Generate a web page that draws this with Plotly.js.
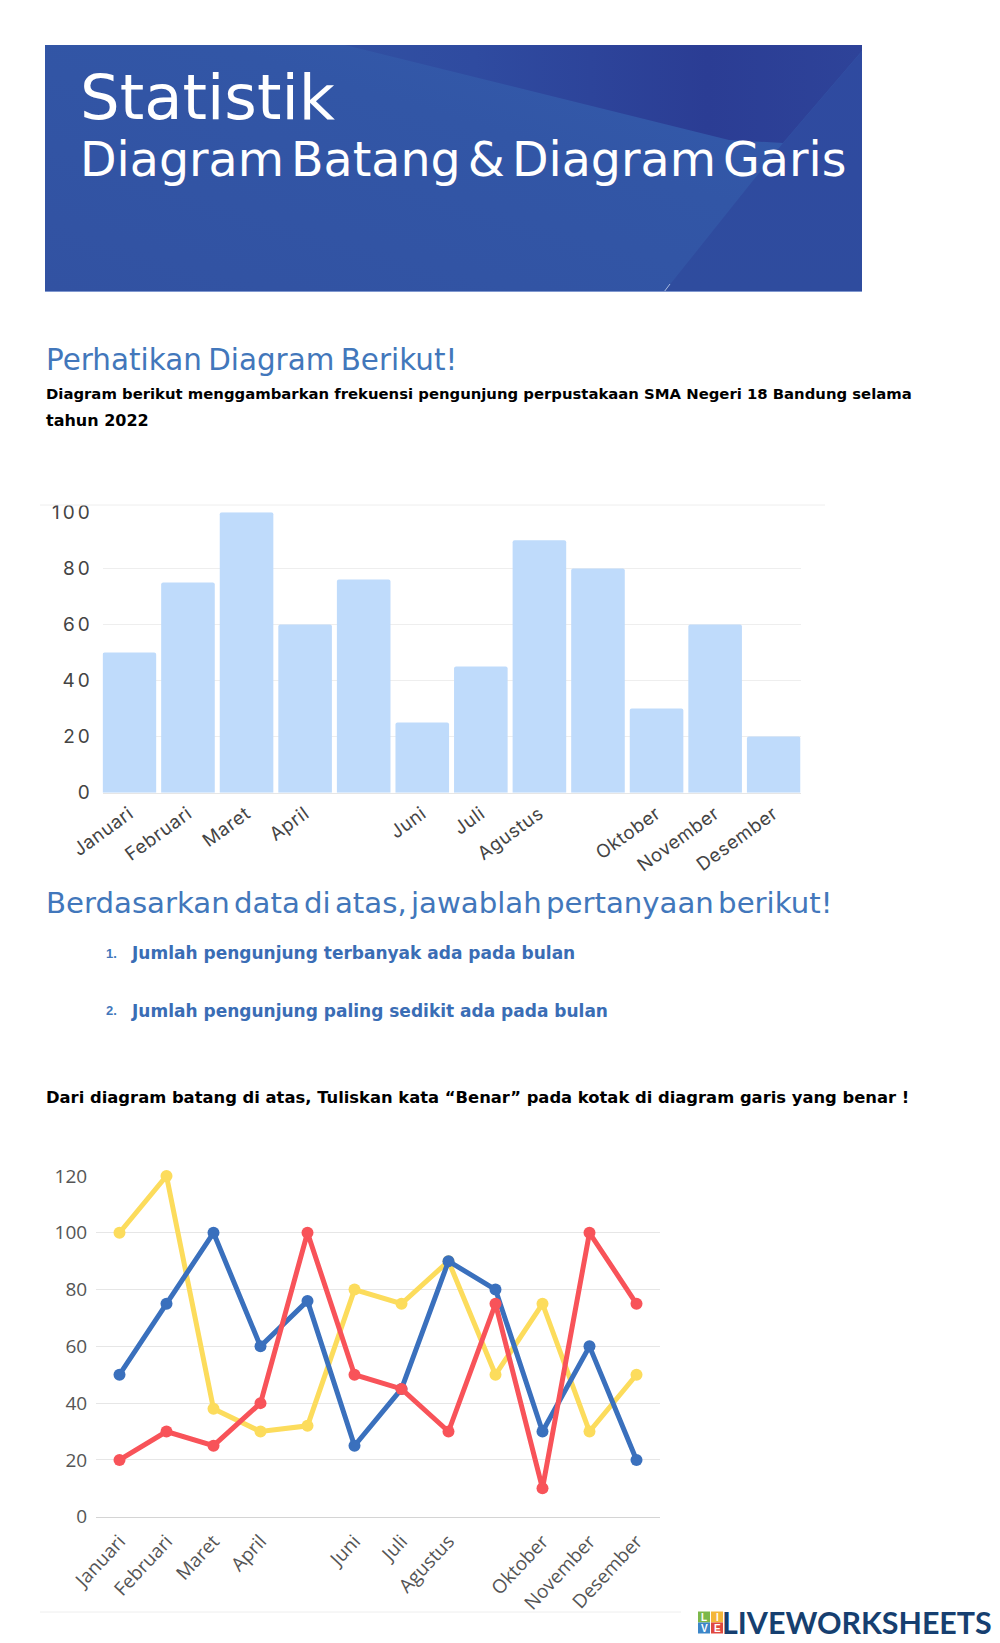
<!DOCTYPE html>
<html><head><meta charset="utf-8">
<script src="https://cdn.plot.ly/plotly-3.0.1.min.js"></script>
<style>
html,body{margin:0;padding:0;background:#fff}
#c{width:1000px;height:1643px}
.annotation[data-index="1"] text{word-spacing:-8px}
.annotation[data-index="2"] text{word-spacing:-3px}
.annotation[data-index="5"] text{word-spacing:-5px}
.ytick text{letter-spacing:3px}
.xtick text{letter-spacing:.6px}
</style></head><body><div id="c"></div>
<script>
const months=['Januari','Februari','Maret','April','Mei','Juni','Juli','Agustus','September','Oktober','November','Desember'];
const tickLabels=['Januari','Februari','Maret','April','Juni','Juli','Agustus','Oktober','November','Desember'];
const barValues=[50,75,100,60,76,25,45,90,80,30,60,20];
const lineYellow=[100,120,38,30,32,80,75,90,50,75,30,50];
const lineBlue=[50,75,100,60,76,25,45,90,80,30,60,20];
const lineRed=[20,30,25,40,100,50,45,30,75,10,100,75];
const W=1000,H=1643;
const px=x=>x/W, py=y=>1-y/H;
function note(text,x,y,size,color,family,bold,anchor){
  return {text:bold?'<b>'+text+'</b>':text,x:px(x),y:py(y),xref:'paper',yref:'paper',xanchor:anchor||'left',yanchor:'middle',showarrow:false,
    font:{size:size,color:color,family:family},borderpad:0};
}
const dj='DejaVu Sans',ar='Liberation Sans',blue='#4277bb';
const annotations=[
 note('Statistik',79,98,62.5,'#fff',dj),
 note('Diagram Batang &amp; Diagram Garis',63,159,47.5,'#fff',dj),
 note('Perhatikan Diagram Berikut!',42,360,29.4,blue,dj),
 note('Diagram berikut menggambarkan frekuensi pengunjung perpustakaan SMA Negeri 18 Bandung selama',45,394,14.85,'#000',dj,true),
 note('tahun 2022',45,420,16,'#000',dj,true),
 note('Berdasarkan data di atas, jawablah pertanyaan berikut!',30,903,29.2,blue,dj),
 note('1.',105,953,13,blue,ar,true),
 note('Jumlah pengunjung terbanyak ada pada bulan',130,953,17,'#3a6db5',dj,true),
 note('2.',105,1011,13,blue,ar,true),
 note('Jumlah pengunjung paling sedikit ada pada bulan',130,1011,17,'#3a6db5',dj,true),
 note('Dari diagram batang di atas, Tuliskan kata “Benar” pada kotak di diagram garis yang benar !',45,1097,16.36,'#000',dj,true),
 note('LIVEWORKSHEETS',721,1622,30.4,'#163f70','Lato',true),
 note('L',704,1617,10,'#fff',ar,true,'center'),
 note('I',717,1617,10,'#fff',ar,true,'center'),
 note('V',704,1628,10,'#fff',ar,true,'center'),
 note('E',717,1628,10,'#fff',ar,true,'center')
];
function rule(x0,x1,y,c){return {type:'line',xref:'paper',yref:'paper',x0:px(x0),x1:px(x1),y0:py(y),y1:py(y),line:{color:c,width:1}};}
function tile(x0,y0,c){return {type:'rect',xref:'paper',yref:'paper',x0:px(x0),x1:px(x0+12),y0:py(y0),y1:py(y0+11),fillcolor:c,line:{width:0}};}
const shapes=[rule(40,825,505,'#eeeeee'),rule(40,681,1612,'#eeeeee'),
 tile(698,1611.5,'#7cb84a'),tile(711,1611.5,'#f4b63a'),tile(698,1622.5,'#3c86c8'),tile(711,1622.5,'#e0483e')];
const svg=`<svg xmlns="http://www.w3.org/2000/svg" width="817" height="247" viewBox="0 0 817 247" preserveAspectRatio="none">
<defs>
<linearGradient id="b" x1="0" y1="1" x2="1" y2="0"><stop offset="0" stop-color="#3252a2"/><stop offset=".6" stop-color="#3256a6"/><stop offset="1" stop-color="#345cad"/></linearGradient>
<linearGradient id="d" gradientUnits="userSpaceOnUse" x1="300" y1="0" x2="817" y2="0"><stop offset="0" stop-color="#3150a2"/><stop offset=".25" stop-color="#2f4ba0"/><stop offset=".7" stop-color="#2b3d94"/><stop offset="1" stop-color="#2e4399"/></linearGradient>
<linearGradient id="r" x1="0" y1="0" x2="0" y2="1"><stop offset="0" stop-color="#2f4aa0"/><stop offset="1" stop-color="#2f4c9e"/></linearGradient>
</defs>
<rect width="817" height="247" fill="url(#b)"/>
<polygon points="300,0 817,0 817,6 738,98 684,95" fill="url(#d)"/>
<polygon points="817,6 817,247 619,247 738,98" fill="url(#r)"/>
<line x1="619" y1="247" x2="625" y2="239" stroke="#a9bce0" stroke-width="1"/>
<rect y="246" width="817" height="1" fill="#7f97cf"/>
</svg>`;
const images=[{source:'data:image/svg+xml;base64,'+btoa(svg),xref:'paper',yref:'paper',x:px(45),y:py(45),sizex:817/W,sizey:247/H,sizing:'stretch',xanchor:'left',yanchor:'top',layer:'below'}];
function lineTrace(v,c){return {type:'scatter',mode:'lines+markers',x:months,y:v,xaxis:'x2',yaxis:'y2',cliponaxis:false,line:{color:c,width:5},marker:{color:c,size:12},hoverinfo:'skip'};}
const data=[
 {type:'bar',x:months,y:barValues,xaxis:'x',yaxis:'y',marker:{color:'#bfdbfb',cornerradius:2},hoverinfo:'skip'},
 lineTrace(lineYellow,'#fcdc5c'),lineTrace(lineBlue,'#3a70bd'),lineTrace(lineRed,'#f85359')
];
const layout={width:W,height:H,margin:{l:0,r:0,t:0,b:0,pad:0},paper_bgcolor:'#fff',plot_bgcolor:'rgba(0,0,0,0)',showlegend:false,bargap:0.085,
 xaxis:{domain:[102.6/W,800.5/W],type:'category',categoryorder:'array',categoryarray:months,range:[-0.4575,11.4575],tickmode:'array',tickvals:tickLabels,ticktext:tickLabels,tickangle:-36,ticks:'',ticklabelstandoff:2,tickfont:{family:'Inter',size:18.5,color:'#444'},showgrid:false,showline:true,linecolor:'#e6e6e6',zeroline:false,anchor:'y',fixedrange:true},
 yaxis:{domain:[1-792.7/H,1-512.3/H],range:[0,100],tickmode:'array',tickvals:[0,20,40,60,80,100],tickfont:{family:'Inter',size:19,color:'#444'},gridcolor:'#eeeeee',zeroline:false,ticks:'outside',ticklen:5,tickcolor:'rgba(0,0,0,0)',anchor:'x',fixedrange:true},
 xaxis2:{domain:[96/W,660/W],type:'category',categoryorder:'array',categoryarray:months,range:[-0.5,11.5],tickmode:'array',tickvals:tickLabels,ticktext:tickLabels,tickangle:-47,ticks:'',ticklabelstandoff:5,tickfont:{family:'Open Sans',size:19,color:'#555'},showgrid:false,showline:true,linecolor:'#d4d4d4',zeroline:false,anchor:'y2',fixedrange:true},
 yaxis2:{domain:[1-1516.7/H,1-1176/H],range:[0,120],tickmode:'array',tickvals:[0,20,40,60,80,100,120],tickfont:{family:'Open Sans',size:19,color:'#555'},gridcolor:'#e6e6e6',zeroline:false,ticks:'outside',ticklen:4,tickcolor:'rgba(0,0,0,0)',anchor:'x2',fixedrange:true},
 annotations:annotations,shapes:shapes,images:images};
Plotly.newPlot('c',data,layout,{displayModeBar:false,responsive:false});
</script></body></html>
